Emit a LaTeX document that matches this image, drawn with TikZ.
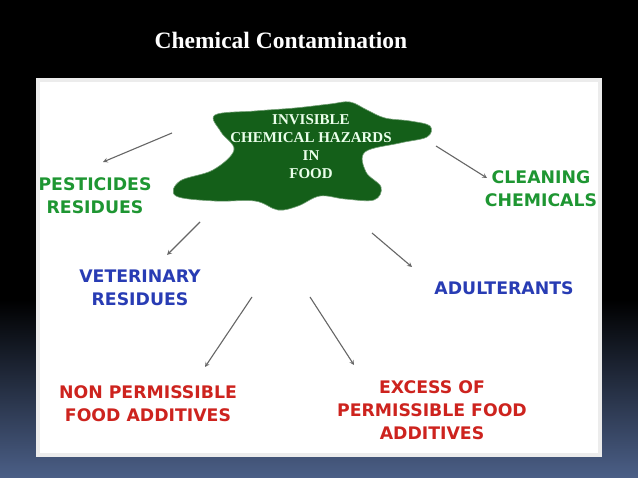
\documentclass[tikz,border=0pt]{standalone}
\usepackage{fontspec}
\setmainfont{Liberation Serif}
\newfontfamily\lab{DejaVu Sans}
\begin{document}
\begin{tikzpicture}[x=1pt,y=-1pt,
  lbl/.style={font=\lab\bfseries\fontsize{17.3}{23}\selectfont,align=center},
  arr/.style={draw=gray!80!black,line width=1.1pt,-stealth}]
\definecolor{lg}{RGB}{30,150,50}
\definecolor{lb}{RGB}{40,60,180}
\definecolor{lr}{RGB}{205,35,30}
\definecolor{bot}{RGB}{75,95,135}
\definecolor{blob}{RGB}{20,95,25}
\useasboundingbox (0,0) rectangle (638,478);
\fill[black] (0,0) rectangle (638,478);
\shade[top color=black,bottom color=bot] (0,300) rectangle (638,478);
\fill[white!85!gray] (36,78) rectangle (602,457);
\fill[white] (40,82) rectangle (598,453);
\node[font=\bfseries\fontsize{23.5}{28}\selectfont,text=white] (title) at (281,40) {Chemical Contamination};
\fill[blob,draw=blob!60!white,line width=0.6pt] plot[smooth cycle,tension=0.6] coordinates {
 (215,115) (255,111) (295,108) (330,104) (350,102) (367,110) (385,118) (410,121) (430,126) (427,137) (400,143) (365,152) (366,172) (381,187) (374,200) (345,199) (320,196) (298,206) (278,210) (255,201) (215,201) (176,196) (180,181) (213,170) (234,150) (221,132)};
\node[font=\bfseries\fontsize{15}{18}\selectfont,text=white!92!green,align=center] (hz) at (311,147) {INVISIBLE\\CHEMICAL HAZARDS\\IN\\FOOD};
\coordinate (h1) at (172,133); \coordinate (h2) at (436,146);
\coordinate (h3) at (200,222); \coordinate (h4) at (372,233);
\coordinate (h5) at (252,297); \coordinate (h6) at (310,297);
\node[lbl,text=lg] (pe) at (95,196) {PESTICIDES\\RESIDUES};
\node[lbl,text=lg] (cl) at (541,189) {CLEANING\\CHEMICALS};
\node[lbl,text=lb] (ve) at (140,288) {VETERINARY\\RESIDUES};
\node[lbl,text=lb] (ad) at (504,288) {ADULTERANTS};
\node[lbl,text=lr] (np) at (148,404) {NON PERMISSIBLE\\FOOD ADDITIVES};
\node[lbl,text=lr] (ex) at (432,410) {EXCESS OF\\PERMISSIBLE FOOD\\ADDITIVES};
\coordinate (e1) at (103,162); \coordinate (e2) at (487,178);
\coordinate (e3) at (167,255); \coordinate (e4) at (412,267);
\coordinate (e5) at (205,367); \coordinate (e6) at (354,365);
\draw[arr] (h1) -- (e1); \draw[arr] (h2) -- (e2);
\draw[arr] (h3) -- (e3); \draw[arr] (h4) -- (e4);
\draw[arr] (h5) -- (e5); \draw[arr] (h6) -- (e6);
\end{tikzpicture}
\end{document}
